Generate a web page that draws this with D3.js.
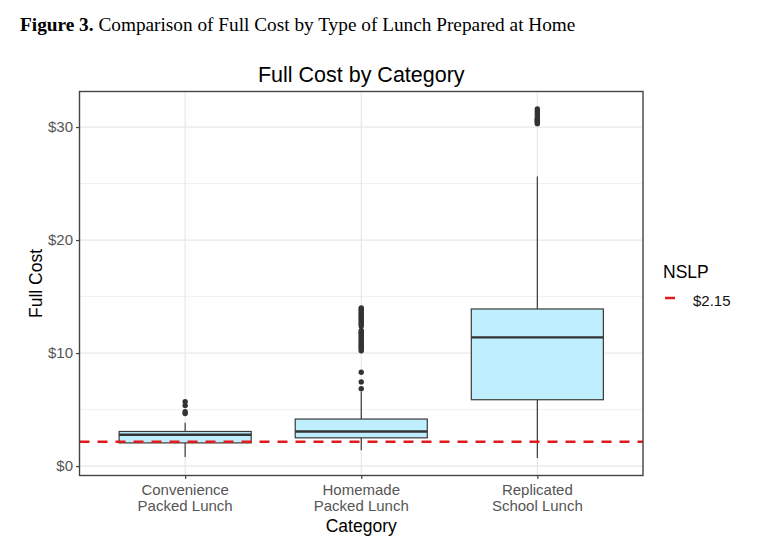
<!DOCTYPE html>
<html>
<head>
<meta charset="utf-8">
<script src="https://cdn.jsdelivr.net/npm/d3@7"></script>
<style>
  body { margin: 0; background: #fff; }
  svg text { font-family: "Liberation Sans", Arial, sans-serif; }
</style>
</head>
<body>
<svg id="chart" width="768" height="560"></svg>
<script>
// data
const categories = ["Convenience Packed Lunch", "Homemade Packed Lunch", "Replicated School Lunch"];
const catLines = [["Convenience", "Packed Lunch"], ["Homemade", "Packed Lunch"], ["Replicated", "School Lunch"]];
const lowWhisker = [0.8, 1.4, 0.71];
const q1 = [2.05, 2.5, 5.87];
const median = [2.77, 3.06, 11.38];
const q3 = [3.06, 4.16, 13.9];
const highWhisker = [3.83, 6.6, 25.63];
const outliersConvenience = [4.65, 4.8, 5.35, 5.7];
const outliersHomemade = [6.85, 7.45, 8.3, 10.2, 10.35, 10.5, 10.6, 10.75, 10.9, 11.0, 11.15, 11.3,
  11.45, 11.6, 11.75, 11.85, 12.0, 12.4, 12.55, 12.7, 12.85, 13.0, 13.1, 13.25, 13.4, 13.5, 13.65, 13.8, 13.9, 14.0];
const outliersReplicated = [30.3, 30.4, 30.5, 30.6, 30.7, 30.8, 31.0, 31.2, 31.4, 31.6];
const yTicks = [0, 10, 20, 30];
const yMinor = [5, 15, 25];
const nslp = 2.15;

const outliers = [outliersConvenience, outliersHomemade, outliersReplicated];
const boxes = categories.map((c, i) => ({
  cat: c, lo: lowWhisker[i], q1: q1[i], med: median[i], q3: q3[i], hi: highWhisker[i], out: outliers[i]
}));

const svg = d3.select("#chart");
const pLeft = 79.5, pRight = 643, pTop = 91.5, pBottom = 475.5;

// y domain with ggplot-style 5% expansion
const allVals = boxes.flatMap(b => [b.lo, b.hi, ...b.out]);
const ext = d3.extent(allVals);
const pad = (ext[1] - ext[0]) * 0.05;
const y = d3.scaleLinear().domain([ext[0] - pad, ext[1] + pad]).range([pBottom, pTop]);
const x = d3.scalePoint().domain(categories).range([pLeft, pRight]).padding(0.6);
const boxW = x.step() * 0.75;

// figure caption
const cap = svg.append("text").attr("x", 20).attr("y", 31)
  .style("font-family", "'Liberation Serif', 'Times New Roman', serif").style("font-size", "19.3px");
cap.append("tspan").style("font-weight", "bold").text("Figure 3.");
cap.append("tspan").text(" Comparison of Full Cost by Type of Lunch Prepared at Home");

// plot title
svg.append("text").attr("x", (pLeft + pRight) / 2).attr("y", 82).attr("text-anchor", "middle")
  .style("font-size", "21.5px").attr("fill", "#000").text("Full Cost by Category");

// gridlines
const grid = svg.append("g");
grid.selectAll(".minor").data(yMinor).enter().append("line")
  .attr("x1", pLeft).attr("x2", pRight).attr("y1", d => y(d)).attr("y2", d => y(d))
  .attr("stroke", "#ebebeb").attr("stroke-width", 0.7);
grid.selectAll(".major").data(yTicks).enter().append("line")
  .attr("x1", pLeft).attr("x2", pRight).attr("y1", d => y(d)).attr("y2", d => y(d))
  .attr("stroke", "#e8e8e8").attr("stroke-width", 1.2);
grid.selectAll(".vert").data(categories).enter().append("line")
  .attr("x1", d => x(d)).attr("x2", d => x(d)).attr("y1", pTop).attr("y2", pBottom)
  .attr("stroke", "#e8e8e8").attr("stroke-width", 1.2);

// boxplots
const g = svg.append("g").selectAll("g").data(boxes).enter().append("g");
g.append("line").attr("x1", d => x(d.cat)).attr("x2", d => x(d.cat))
  .attr("y1", d => y(d.q3)).attr("y2", d => y(d.hi)).attr("stroke", "#3a3a3a").attr("stroke-width", 1.2);
g.append("line").attr("x1", d => x(d.cat)).attr("x2", d => x(d.cat))
  .attr("y1", d => y(d.q1)).attr("y2", d => y(d.lo)).attr("stroke", "#3a3a3a").attr("stroke-width", 1.2);
g.append("rect").attr("x", d => x(d.cat) - boxW / 2).attr("width", boxW)
  .attr("y", d => y(d.q3)).attr("height", d => y(d.q1) - y(d.q3))
  .attr("fill", "#bfefff").attr("stroke", "#3a3a3a").attr("stroke-width", 1.2);
g.append("line").attr("x1", d => x(d.cat) - boxW / 2).attr("x2", d => x(d.cat) + boxW / 2)
  .attr("y1", d => y(d.med)).attr("y2", d => y(d.med)).attr("stroke", "#333").attr("stroke-width", 2.3);
g.selectAll("circle").data(d => d.out.map(v => ({cat: d.cat, v}))).enter().append("circle")
  .attr("cx", d => x(d.cat)).attr("cy", d => y(d.v)).attr("r", 2.7).attr("fill", "#333");

// NSLP reference line
svg.append("line").attr("x1", pLeft).attr("x2", pRight).attr("y1", y(nslp)).attr("y2", y(nslp))
  .attr("stroke", "#e31a1c").attr("stroke-width", 2.5).attr("stroke-dasharray", "10,8");

// panel border
svg.append("rect").attr("x", pLeft).attr("y", pTop).attr("width", pRight - pLeft).attr("height", pBottom - pTop)
  .attr("fill", "none").attr("stroke", "#444").attr("stroke-width", 1.4);

// y axis
const yAxis = svg.append("g").attr("transform", `translate(${pLeft},0)`)
  .call(d3.axisLeft(y).tickValues(yTicks).tickSize(3.5).tickPadding(3).tickFormat(d => "$" + d));
yAxis.select(".domain").remove();
yAxis.selectAll("line").attr("stroke", "#444").attr("stroke-width", 1.2);
yAxis.selectAll("text").attr("fill", "#555").style("font-size", "15px");

// x axis
const xAxis = svg.append("g").attr("transform", `translate(0,${pBottom})`)
  .call(d3.axisBottom(x).tickSize(3.5).tickFormat(""));
xAxis.select(".domain").remove();
xAxis.selectAll("line").attr("stroke", "#444").attr("stroke-width", 1.2);
svg.append("g").selectAll("text").data(categories).enter().append("text")
  .attr("x", d => x(d)).attr("text-anchor", "middle").attr("fill", "#555").style("font-size", "15px")
  .selectAll("tspan").data((d, i) => catLines[i]).enter().append("tspan")
  .attr("x", function() { return this.parentNode.getAttribute("x"); })
  .attr("y", (d, i) => 494.5 + i * 16).text(d => d);

// axis titles
svg.append("text").attr("x", (pLeft + pRight) / 2).attr("y", 531.5).attr("text-anchor", "middle")
  .style("font-size", "17.5px").attr("fill", "#000").text("Category");
svg.append("text").attr("transform", `translate(42,${(pTop + pBottom) / 2}) rotate(-90)`)
  .attr("text-anchor", "middle").style("font-size", "17.5px").attr("fill", "#000").text("Full Cost");

// legend
const leg = svg.append("g");
leg.append("text").attr("x", 663).attr("y", 278).style("font-size", "17.5px").attr("fill", "#000").text("NSLP");
leg.append("line").attr("x1", 665).attr("x2", 675).attr("y1", 298).attr("y2", 298)
  .attr("stroke", "#e31a1c").attr("stroke-width", 2.5);
leg.append("text").attr("x", 693).attr("y", 306).style("font-size", "15px").attr("fill", "#111").text("$2.15");
</script>
</body>
</html>
